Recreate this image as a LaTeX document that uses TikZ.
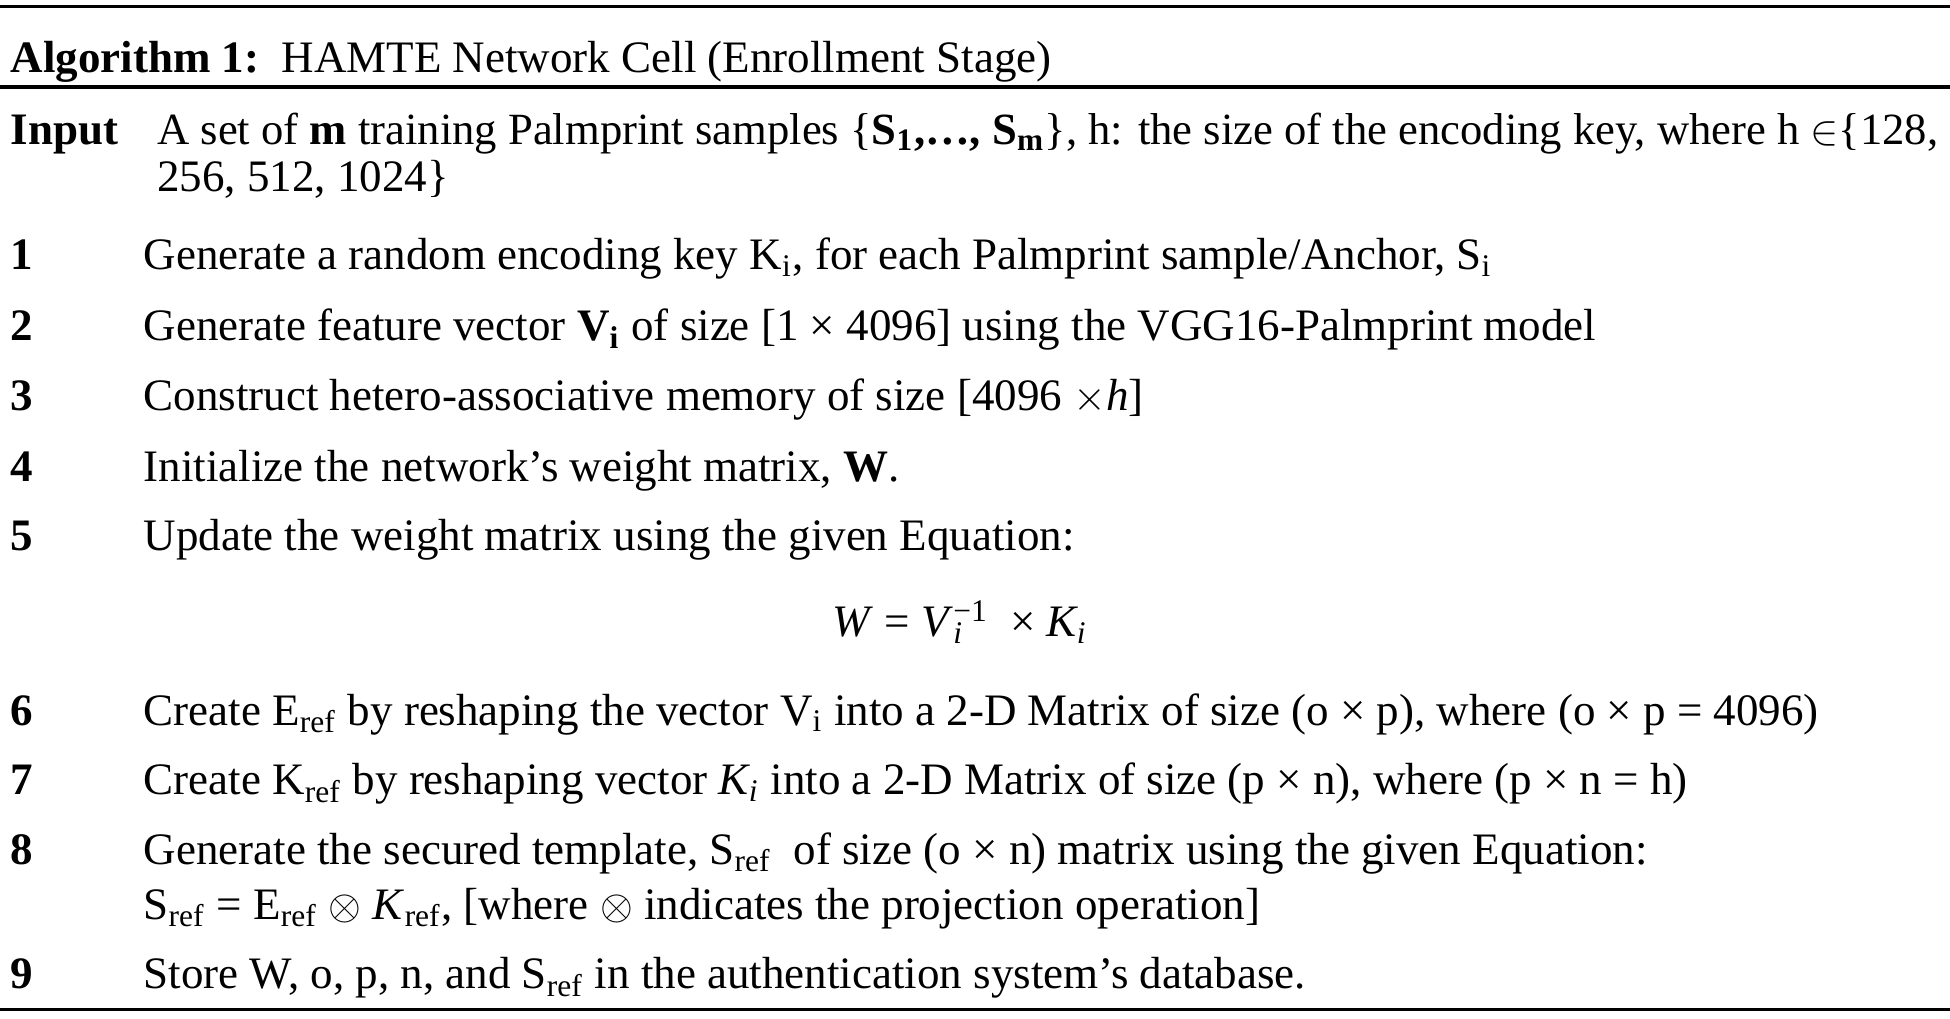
\documentclass[tikz,border=0pt]{standalone}
\usepackage{fontspec}
\setmainfont{Liberation Serif}
\newcommand{\ts}[1]{\textsubscript{#1}}
\begin{document}
\begin{tikzpicture}[x=0.01244cm,y=-0.01244cm,
  txt/.style={anchor=base west,inner sep=0pt,font=\fontsize{12.8pt}{15pt}\selectfont},
  num/.style={txt,font=\fontsize{12.8pt}{15pt}\selectfont\bfseries},
  rulel/.style={line width=0.9pt}]
\useasboundingbox (0,0) rectangle (1568,819);
\coordinate (tl) at (0,5); \coordinate (tr) at (1568,5);
\coordinate (ml) at (0,70); \coordinate (mr) at (1568,70);
\coordinate (bl) at (0,812); \coordinate (br) at (1568,812);
\draw[rulel] (tl) -- (tr);
\draw[rulel] (ml) -- (mr);
\draw[rulel] (bl) -- (br);
\node[txt] (title) at (8,58) {\textbf{Algorithm 1:}\ \ HAMTE Network Cell (Enrollment Stage)};
\node[num] (inp) at (8,116) {Input};
\node[txt,font=\fontsize{12.7pt}{15pt}\selectfont] (inp1) at (126,116) {A set of \textbf{m} training Palmprint samples \{\textbf{S\ts{1},\dots, S\ts{m}}\}, h: the size of the encoding key, where h $\in$\{128,};
\node[txt] (inp2) at (126,154) {256, 512, 1024\}};
\node[num] (n1) at (8,217) {1};
\node[txt] (t1) at (115,217) {Generate a random encoding key K\ts{i}, for each Palmprint sample/Anchor, S\ts{i}};
\node[num] (n2) at (8,274) {2};
\node[txt] (t2) at (115,274) {Generate feature vector \textbf{V\ts{i}} of size [1 × 4096] using the VGG16-Palmprint model};
\node[num] (n3) at (8,330) {3};
\node[txt] (t3) at (115,330) {Construct hetero-associative memory of size [4096 $\times$\textit{h}]};
\node[num] (n4) at (8,387) {4};
\node[txt] (t4) at (115,387) {Initialize the network’s weight matrix, \textbf{W}.};
\node[num] (n5) at (8,443) {5};
\node[txt] (t5) at (115,443) {Update the weight matrix using the given Equation:};
\node[txt,anchor=base] (eq) at (772,512) {\textit{W} = \textit{V}\rlap{\textsuperscript{−1}}\textsubscript{\textit{i}}\hphantom{\textsuperscript{−1}} × \textit{K\ts{i}}};
\node[num] (n6) at (8,583) {6};
\node[txt] (t6) at (115,583) {Create E\ts{ref} by reshaping the vector V\ts{i} into a 2-D Matrix of size (o × p), where (o × p = 4096)};
\node[num] (n7) at (8,639) {7};
\node[txt] (t7) at (115,639) {Create K\ts{ref} by reshaping vector \textit{K\ts{i}} into a 2-D Matrix of size (p × n), where (p × n = h)};
\node[num] (n8) at (8,695) {8};
\node[txt] (t8) at (115,695) {Generate the secured template, S\ts{ref}\ \ of size (o × n) matrix using the given Equation:};
\node[txt] (t8b) at (115,739) {S\ts{ref} = E\ts{ref} $\otimes$ \textit{K}\ts{ref}, [where $\otimes$ indicates the projection operation]};
\node[num] (n9) at (8,795) {9};
\node[txt] (t9) at (115,795) {Store W, o, p, n, and S\ts{ref} in the authentication system’s database.};
\end{tikzpicture}
\end{document}
